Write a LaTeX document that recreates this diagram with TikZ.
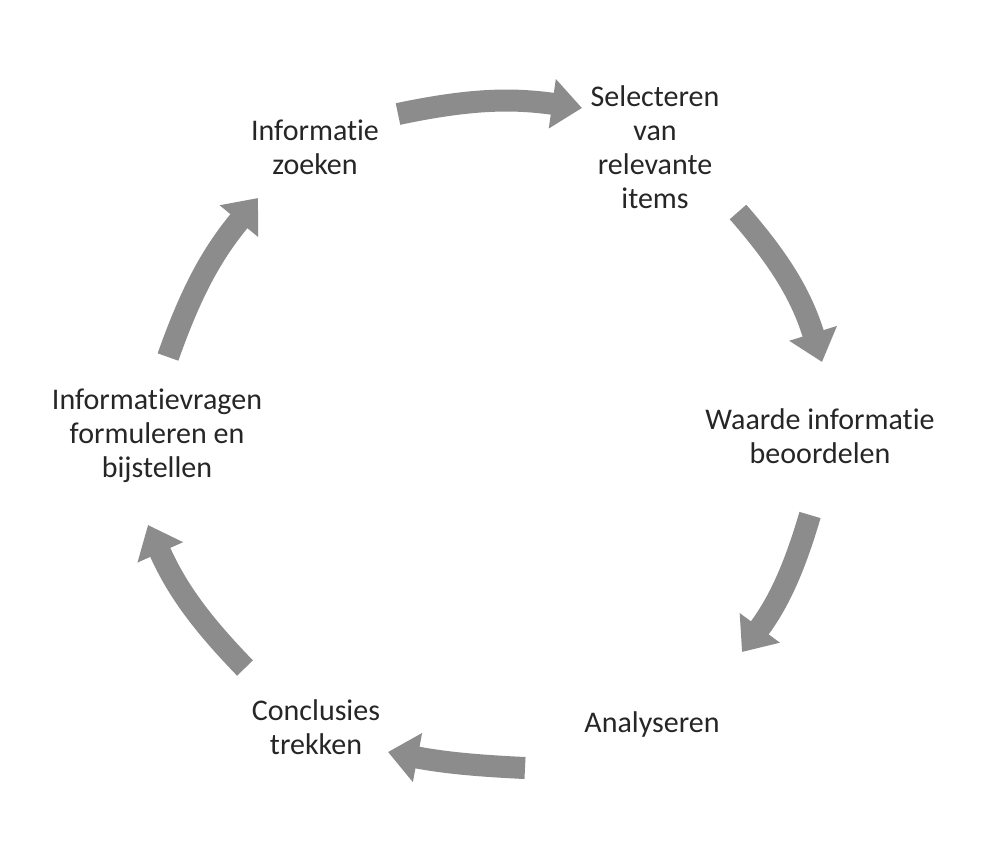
\documentclass[tikz,border=0pt]{standalone}
\usepackage{fontspec}
\setmainfont{Carlito}[Ligatures={NoCommon,NoDiscretionary}]
\usetikzlibrary{arrows.meta}
\begin{document}
\begin{tikzpicture}[x=1pt,y=-1pt,
  lbl/.style={align=center,font=\fontsize{30}{34}\selectfont,text=black!85},
  cyc/.style={line width=22pt,draw=black!45,-{Triangle[length=30pt,width=48pt]}}]
\useasboundingbox[fill=white] (0,0) rectangle (998,844);
\node[lbl] (a) at (315,147) {Informatie\\zoeken};
\node[lbl] (b) at (655,147) {Selecteren\\van\\relevante\\items};
\node[lbl] (c) at (820,436) {Waarde informatie\\beoordelen};
\node[lbl] (d) at (652,724) {Analyseren};
\node[lbl] (e) at (316,727) {Conclusies\\trekken};
\node[lbl] (f) at (157,436) {Informatievragen\\formuleren en\\bijstellen};
\coordinate (a1) at (398,114); \coordinate (b0) at (582,108);
\coordinate (b1) at (738,212); \coordinate (c0) at (822,362);
\coordinate (c1) at (810,515); \coordinate (d0) at (742,652);
\coordinate (d1) at (525,768); \coordinate (e0) at (388,752);
\coordinate (e1) at (245,668); \coordinate (f0) at (148,525);
\coordinate (f1) at (168,357); \coordinate (a0) at (258,198);
\draw[cyc] (a1) to[bend left=10] (b0);
\draw[cyc] (b1) to[bend left=12] (c0);
\draw[cyc] (c1) to[bend left=10] (d0);
\draw[cyc] (d1) to[bend left=4] (e0);
\draw[cyc] (e1) to[bend left=10] (f0);
\draw[cyc] (f1) to[bend left=10] (a0);
\end{tikzpicture}
\end{document}
